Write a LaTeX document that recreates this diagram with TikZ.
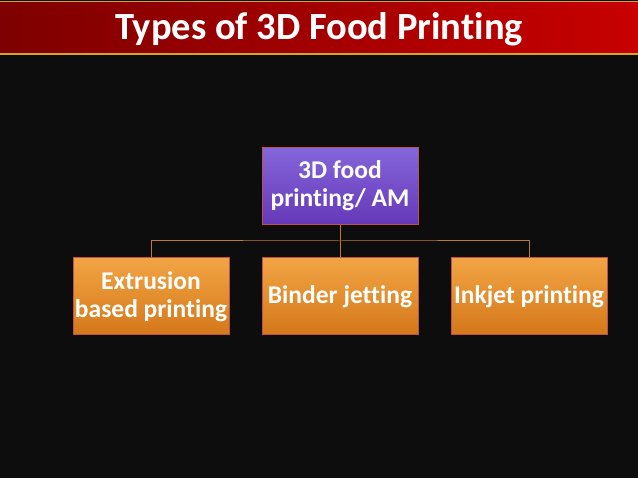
\documentclass[tikz,border=0pt]{standalone}
\usepackage{fontspec}
\setmainfont[Ligatures=NoCommon]{Carlito}
\usetikzlibrary{positioning}
\definecolor{bg}{HTML}{0D0D0D}
\definecolor{barL}{HTML}{7E0000}
\definecolor{barR}{HTML}{C80000}
\definecolor{gold}{HTML}{D4A52A}
\definecolor{purT}{HTML}{8466DA}
\definecolor{purB}{HTML}{6638B8}
\definecolor{orT}{HTML}{F2A444}
\definecolor{orB}{HTML}{D4781A}
\definecolor{edge}{HTML}{C0504D}
\definecolor{conn}{HTML}{C07A34}
\tikzset{
  x=1pt,y=-1pt,
  boxbase/.style={minimum width=156pt,minimum height=77pt,inner sep=1pt,align=center,
    draw=edge,line width=1pt,text=white,font=\fontsize{25.5}{28}\selectfont\bfseries},
  topbox/.style={boxbase,top color=purT,bottom color=purB},
  leafbox/.style={boxbase,top color=orT,bottom color=orB},
  link/.style={draw=conn,line width=1pt}
}
\begin{document}
\begin{tikzpicture}
\fill[bg] (0,0) rectangle (638,478);
\useasboundingbox (0,0) rectangle (638,478);
\shade[left color=barL,right color=barR] (0,2) rectangle (638,54);
\draw[gold,line width=1.5pt] (0,1.5) -- (638,1.5);
\draw[gold,line width=1.5pt] (0,54) -- (638,54);
\node[text=white,font=\fontsize{38.5}{40}\selectfont\bfseries] (title) at (319,29) {Types of 3D Food Printing};
\node[topbox] (root) at (340,186) {3D food\\printing/ AM};
\node[leafbox] (ext) at (151,296.5) {Extrusion\\based printing};
\node[leafbox] (bin) at (340,296.5) {Binder jetting};
\node[leafbox] (ink) at (529,296.5) {Inkjet printing};
\coordinate (mid) at (340,241);
\draw[link] (root.south) -- (bin.north);
\draw[link] (ext.north) |- (mid) -| (ink.north);
\end{tikzpicture}
\end{document}
